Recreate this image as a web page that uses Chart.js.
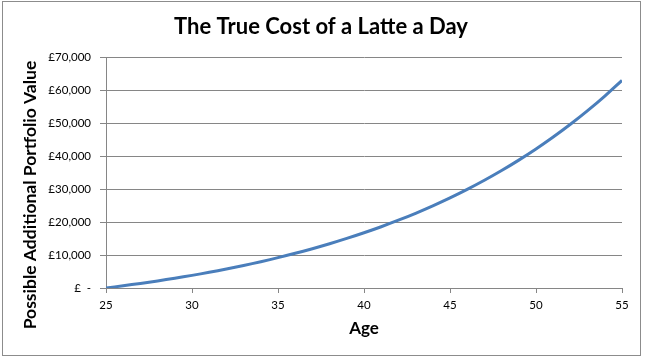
<!DOCTYPE html>
<html>
<head>
<meta charset="utf-8">
<script src="https://cdn.jsdelivr.net/npm/chart.js@4/dist/chart.umd.min.js"></script>
<style>
  html, body { margin: 0; padding: 0; background: #fff; }
  #wrap { width: 645px; height: 359px; }
</style>
</head>
<body>
<div id="wrap"><canvas id="latteChart" width="645" height="359"></canvas></div>
<script>
// values
const ages = [25, 26, 27, 28, 29, 30, 31, 32, 33, 34, 35, 36, 37, 38, 39, 40,
              41, 42, 43, 44, 45, 46, 47, 48, 49, 50, 51, 52, 53, 54, 55];
const portfolioValue = [0, 680, 1390, 2150, 2960, 3830, 4760, 5760, 6830, 7980, 9200,
                        10510, 11910, 13410, 15020, 16740, 18570, 20540, 22640, 24890, 27300,
                        29880, 32640, 35590, 38750, 42120, 45740, 49610, 53750, 58170, 62910];
const xTicks = [25, 30, 35, 40, 45, 50, 55];
const yTicks = [0, 10000, 20000, 30000, 40000, 50000, 60000, 70000];

const chartTitle = 'The True Cost of a Latte a Day';
const yTitle = 'Possible Additional Portfolio Value';
const xTitle = 'Age';

const FONT = "Lato, 'Open Sans', sans-serif";
const GRID = '#868686';

// frame, chart title and rotated y title (Excel places these off the plot centre)
const frame = {
    id: 'frame',
    beforeDraw(chart) {
        const c = chart.ctx;
        c.save();
        c.fillStyle = '#fff';
        c.fillRect(0, 0, chart.width, chart.height);
        c.strokeStyle = '#8c8c8c';
        c.lineWidth = 1;
        c.strokeRect(2.5, 1.5, 638, 354);
        c.restore();
    },
    afterDraw(chart) {
        const c = chart.ctx;
        c.save();
        c.fillStyle = '#000';
        c.textAlign = 'center';
        c.textBaseline = 'middle';
        c.font = 'bold 22px ' + FONT;
        c.fillText(chartTitle, 321, 27);
        c.translate(30, 195);
        c.rotate(-Math.PI / 2);
        c.font = 'bold 17.5px ' + FONT;
        c.fillText(yTitle, 0, 0);
        c.restore();
    }
};

const fmtMoney = v => v === 0 ? '£  -' : '£' + v.toLocaleString('en-GB');

new Chart(document.getElementById('latteChart'), {
    type: 'line',
    data: {
        datasets: [{
            data: ages.map((a, i) => ({ x: a, y: portfolioValue[i] })),
            borderColor: '#4A7EBB',
            borderWidth: 3,
            pointRadius: 0,
            tension: 0.4,
            fill: false
        }]
    },
    options: {
        responsive: false,
        animation: false,
        layout: { padding: { left: 0, right: 23, top: 57, bottom: 0 } },
        plugins: {
            legend: { display: false },
            tooltip: { enabled: false },
            title: { display: false }
        },
        scales: {
            x: {
                type: 'linear',
                min: 25,
                max: 55,
                afterBuildTicks: s => { s.ticks = xTicks.map(v => ({ value: v })); },
                afterFit: s => { s.height = 71; },
                grid: { drawOnChartArea: false, drawTicks: true, tickLength: 5, color: GRID },
                border: { display: true, color: GRID },
                ticks: {
                    color: '#000',
                    padding: 5,
                    maxRotation: 0,
                    font: { family: FONT, size: 11.5 }
                },
                title: {
                    display: true,
                    text: xTitle,
                    color: '#000',
                    font: { family: FONT, size: 17, weight: 'bold' },
                    padding: { top: 0, bottom: 20 }
                }
            },
            y: {
                min: 0,
                max: 70000,
                afterBuildTicks: s => { s.ticks = yTicks.map(v => ({ value: v })); },
                afterFit: s => { s.width = 106; },
                grid: { color: GRID, drawTicks: true, tickLength: 6 },
                border: { display: true, color: GRID },
                ticks: {
                    color: '#000',
                    padding: 9,
                    font: { family: FONT, size: 11.5 },
                    callback: v => fmtMoney(v)
                }
            }
        }
    },
    plugins: [frame]
});
</script>
</body>
</html>
